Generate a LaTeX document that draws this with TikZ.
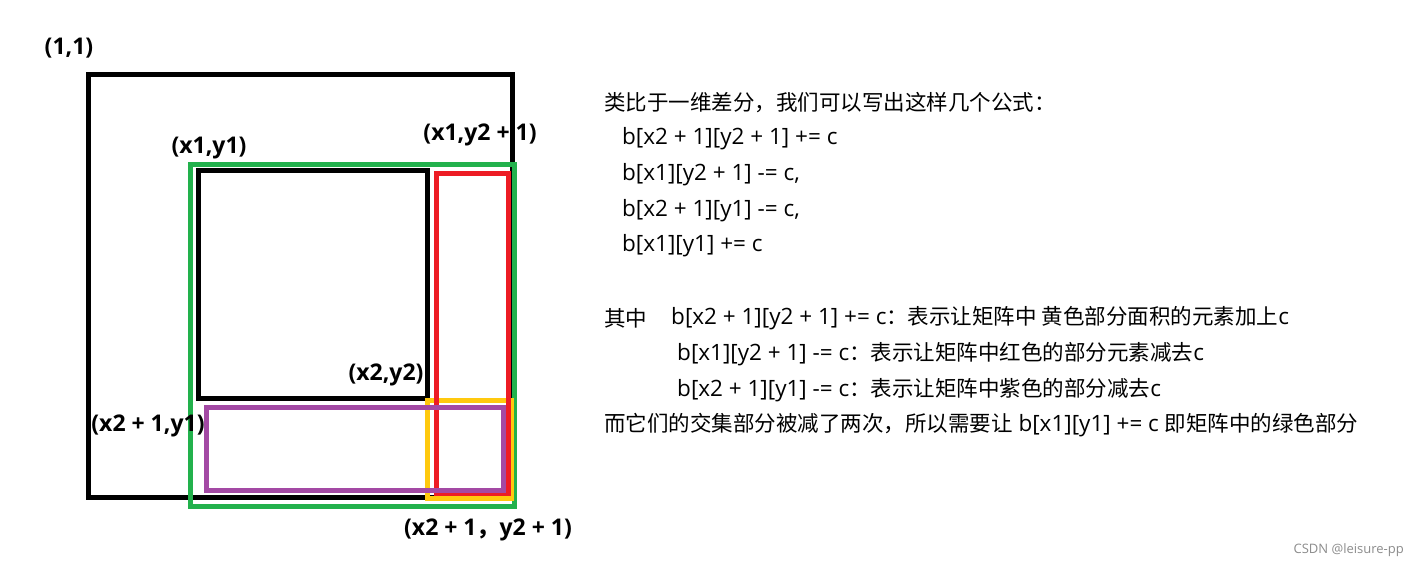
\documentclass[tikz,border=0pt]{standalone}
\usepackage{fontspec}
\setmainfont{Open Sans}
\newfontfamily\cjk{Noto Sans CJK SC}
\usetikzlibrary{positioning}
\definecolor{pgreen}{RGB}{34,177,76}
\definecolor{pred}{RGB}{237,28,36}
\definecolor{pyellow}{RGB}{255,201,14}
\definecolor{ppurple}{RGB}{163,73,164}
\newcommand{\zh}[1]{{\cjk\fontsize{21.5}{24}\selectfont #1}}

\begin{document}
\begin{tikzpicture}[x=1pt,y=-1pt,
    box/.style={line width=5pt},
    corner/.style={font=\fontsize{23}{26}\bfseries\selectfont,inner sep=0pt},
    formula/.style={font=\fontsize{22.5}{26}\selectfont,anchor=west,inner sep=0pt}]
  \useasboundingbox[fill=white] (0,0) rectangle (1419,569);
  % rectangles of the grid
  \draw[box] (88,75) rectangle (512,497);
  \draw[box] (198,171) rectangle (427,398);
  \draw[box,pgreen] (190,165) rectangle (514,506);
  \draw[box,pyellow] (427,400) rectangle (511,498);
  \draw[box,pred] (436,174) rectangle (508,493);
  \draw[box,ppurple] (206,407) rectangle (503,490);
  % corner labels
  \node[corner] (p11) at (69,48) {(1,1)};
  \node[corner] (px1y1) at (209,148) {(x1,y1)};
  \node[corner] (px1y2) at (480,135) {(x1,y2 + 1)};
  \node[corner] (px2y2) at (386,375) {(x2,y2)};
  \node[corner] (px2y1) at (148,426) {(x2 + 1,y1)};
  \node[corner] (pend) at (488,530) {(x2 + 1{\cjk\bfseries ，}y2 + 1)};
  % formulas
  \node[formula] (intro) at (604,103) {\zh{类比于一维差分，我们可以写出这样几个公式：}};
  \node[formula] (f1) at (622,139) {b[x2 + 1][y2 + 1] += c};
  \node[formula] (f2) at (622,175) {b[x1][y2 + 1] -= c,};
  \node[formula] (f3) at (622,211) {b[x2 + 1][y1] -= c,};
  \node[formula] (f4) at (622,246) {b[x1][y1] += c};
  \node[formula] (qz) at (604,318) {\zh{其中}};
  \node[formula] (e1) at (671,318) {b[x2 + 1][y2 + 1] += c\zh{：表示让矩阵中 黄色部分面积的元素加上}c};
  \node[formula] (e2) at (677,354) {b[x1][y2 + 1] -= c\zh{：表示让矩阵中红色的部分元素减去}c};
  \node[formula] (e3) at (677,390) {b[x2 + 1][y1] -= c\zh{：表示让矩阵中紫色的部分减去}c};
  \node[formula] (e4) at (604,425) {\zh{而它们的交集部分被减了两次，所以需要让} b[x1][y1] += c \zh{即矩阵中的绿色部分}};
  \node[font=\fontsize{13}{16}\selectfont,text=black!45,inner sep=0pt,anchor=east] (mark) at (1404,550) {CSDN @leisure-pp};
\end{tikzpicture}
\end{document}
